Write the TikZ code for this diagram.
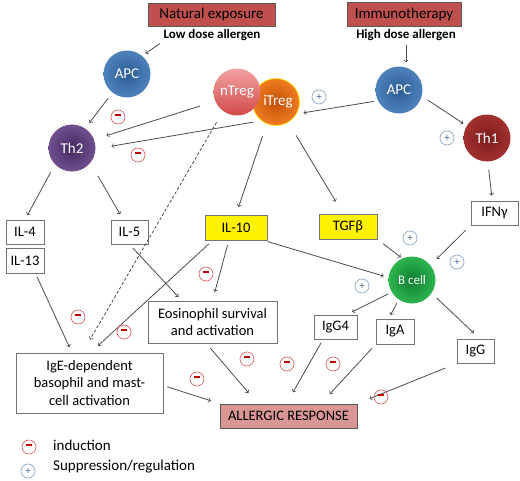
\documentclass[tikz,border=0pt]{standalone}
\usepackage{fontspec}
\setmainfont{Carlito}
\definecolor{titlered}{HTML}{C0504D}
\definecolor{resppink}{HTML}{D99694}
\definecolor{negred}{HTML}{C00000}
\definecolor{negring}{HTML}{E06666}
\definecolor{posblue}{HTML}{4F6A8F}
\definecolor{posring}{HTML}{8EA9C8}
\definecolor{apcin}{HTML}{2B5C95}
\definecolor{apcout}{HTML}{4F81BD}
\definecolor{ntregtop}{HTML}{F2A2A2}
\definecolor{ntregbot}{HTML}{D24A4A}
\definecolor{itregin}{HTML}{C0500A}
\definecolor{itregout}{HTML}{F07C1E}
\definecolor{thtwoin}{HTML}{43295E}
\definecolor{thtwoout}{HTML}{6E5090}
\definecolor{thonein}{HTML}{7B1C1C}
\definecolor{thoneout}{HTML}{A33030}
\definecolor{bcin}{HTML}{0F7D31}
\definecolor{bcout}{HTML}{2DB54F}
\newcommand{\negmark}{\rule[-3pt]{0pt}{3pt}\textcolor{negred}{\rule[1.2pt]{6pt}{1.8pt}}}
\newcommand{\posmark}{\textcolor{posblue}{\fontsize{11}{11}\selectfont +}}
\tikzstyle{cell}=[circle, minimum size=47pt, inner sep=0pt, text=white, font=\fontsize{15}{16}\selectfont]
\tikzstyle{box}=[draw=black!55, line width=0.9pt, fill=white, inner sep=0pt, align=center, font=\fontsize{14.5}{17.5}\selectfont]
\tikzstyle{titlebox}=[draw=black!65, line width=0.9pt, fill=titlered, inner sep=0pt, font=\fontsize{15}{17}\selectfont]
\tikzstyle{dose}=[inner sep=1pt, font=\fontsize{13}{15}\selectfont\bfseries]
\tikzstyle{link}=[draw, ->, black!70, line width=0.8pt]
\tikzstyle{minussign}=[circle, draw=negring, line width=0.7pt, minimum size=14pt, inner sep=0pt]
\tikzstyle{plussign}=[circle, draw=posring, line width=0.7pt, minimum size=14pt, inner sep=0pt]
\tikzstyle{legendtext}=[anchor=west, inner sep=0pt, font=\fontsize{15}{17}\selectfont]

\begin{document}
\begin{tikzpicture}[x=1pt, y=-1pt]
    \tikzstyle{apc}=[cell, inner color=apcin, outer color=apcout]
    \tikzstyle{ntreg}=[cell, top color=ntregtop, bottom color=ntregbot]
    \tikzstyle{itreg}=[cell, draw=yellow!90!orange, line width=0.6pt, inner color=itregin, outer color=itregout]
    \tikzstyle{th2}=[cell, inner color=thtwoin, outer color=thtwoout]
    \tikzstyle{th1}=[cell, inner color=thonein, outer color=thoneout]
    \tikzstyle{bc}=[cell, font=\fontsize{13}{15}\selectfont, inner color=bcin, outer color=bcout]
  \useasboundingbox (0,0) rectangle (520,480);

  % where the allergen comes from
  \node[titlebox, minimum width=127pt, minimum height=23pt] (natural) at (211.5,14.5) {Natural exposure};
  \node[titlebox, minimum width=114pt, minimum height=24pt] (immuno) at (404,14) {Immunotherapy};
  \node[dose] (low) at (212,35) {Low dose allergen};
  \node[dose] (high) at (406,35) {High dose allergen};

  % cells
  \node[apc] (apcL) at (127,74) {APC};
  \node[apc] (apcR) at (399,90) {APC};
  \node[itreg] (itreg) at (276,102) {\hspace{4pt}iTreg};
  \node[ntreg] (ntreg) at (237,92) {nTreg};
  \node[th2] (th2) at (72,148) {Th2};
  \node[th1] (th1) at (487,138) {Th1};
  \node[bc] (bcell) at (412,280) {B cell};

  % cytokines and effects
  \node[box, minimum width=38pt, minimum height=24pt] (il4) at (25,232) {IL-4};
  \node[box, minimum width=38pt, minimum height=25pt] (il13) at (25,260.5) {IL-13};
  \node[box, minimum width=37pt, minimum height=24pt] (il5) at (129.5,232) {IL-5};
  \node[box, fill=yellow, minimum width=62pt, minimum height=25pt] (il10) at (236,227.5) {IL-10};
  \node[box, fill=yellow, minimum width=58pt, minimum height=25pt] (tgfb) at (348,226.5) {TGFβ};
  \node[box, minimum width=47pt, minimum height=24pt] (ifng) at (494.5,213) {IFNγ};
  \node[box, minimum width=129pt, minimum height=42pt] (eos) at (212.5,322) {Eosinophil survival\\and activation};
  \node[box, minimum width=147pt, minimum height=60pt] (ige) at (89.5,383) {IgE-dependent\\basophil and mast-\\cell activation};
  \node[box, minimum width=43pt, minimum height=24pt] (igg4) at (335.5,327) {IgG4};
  \node[box, minimum width=38pt, minimum height=25pt] (iga) at (395,331.5) {IgA};
  \node[box, minimum width=37pt, minimum height=24pt] (igg) at (475.5,351) {IgG};
  \node[box, fill=resppink, draw=black!65, minimum width=137pt, minimum height=24pt] (allergic) at (288.5,416) {ALLERGIC RESPONSE};

  % arrows
  \foreach \a/\b/\s/\t in {low.south west/apcL.50/3/4, apcL.232/th2.56/7/7,
                           ntreg.203/th2.21/16/13, itreg.232/th2.-2/8/16,
                           apcR.207/itreg.-30/4/7, apcR.-15/th1.149/7/4,
                           th2.224/il4.north/9/5, th2.-39/il5.117/15/6,
                           itreg.247/il10.north/13/8, itreg.-59/tgfb.111/15/14,
                           th1.-88/ifng.100/8/5, il5.south/eos.145/5/5,
                           il10.209/ige.88/5/10, il10.241/eos.north/5/9,
                           il10.-25/bcell.174/4/5, tgfb.south east/bcell.114/7/2,
                           ifng.south west/bcell.39/7/9, il13.-51/ige.120/4/6,
                           bcell.211/igg4.48/4/6, bcell.236/iga.116/4/4,
                           bcell.-34/igg.72/7/8, eos.254/allergic.158/6/14,
                           ige.-2/allergic.north west/4/9, igg4.225/allergic.99/4/13,
                           iga.south west/allergic.21/5/13,
                           igg.south west/allergic.north east/12/13}
      \path[link, shorten <=\s pt, shorten >=\t pt] (\a) -- (\b);
  \path[link, shorten <=3pt, shorten >=4pt] (high.south) -- (high.south |- apcR.north);
  \path[link, dash pattern=on 3pt off 2pt, shorten <=13pt, shorten >=15pt] (ntreg.234) -- (ige.103);

  % induction / suppression marks
  \foreach \x/\y [count=\i] in {118/117, 138/155, 78/317, 124/332, 206/274, 197/379,
                                247/359, 287/364, 333/364, 381/397}
      \node[minussign] (m\i) at (\x,\y) {\negmark};
  \foreach \x/\y [count=\i] in {319/97, 447/138, 410/238, 457/262, 362/286}
      \node[plussign] (p\i) at (\x,\y) {\posmark};

  % legend
  \node[minussign] (keyminus) at (29,447) {\negmark};
  \node[plussign] (keyplus) at (28,471) {\posmark};
  \node[legendtext] (keyind) at (53,445) {induction};
  \node[legendtext] (keysup) at (53,467) {Suppression/regulation};
\end{tikzpicture}
\end{document}
